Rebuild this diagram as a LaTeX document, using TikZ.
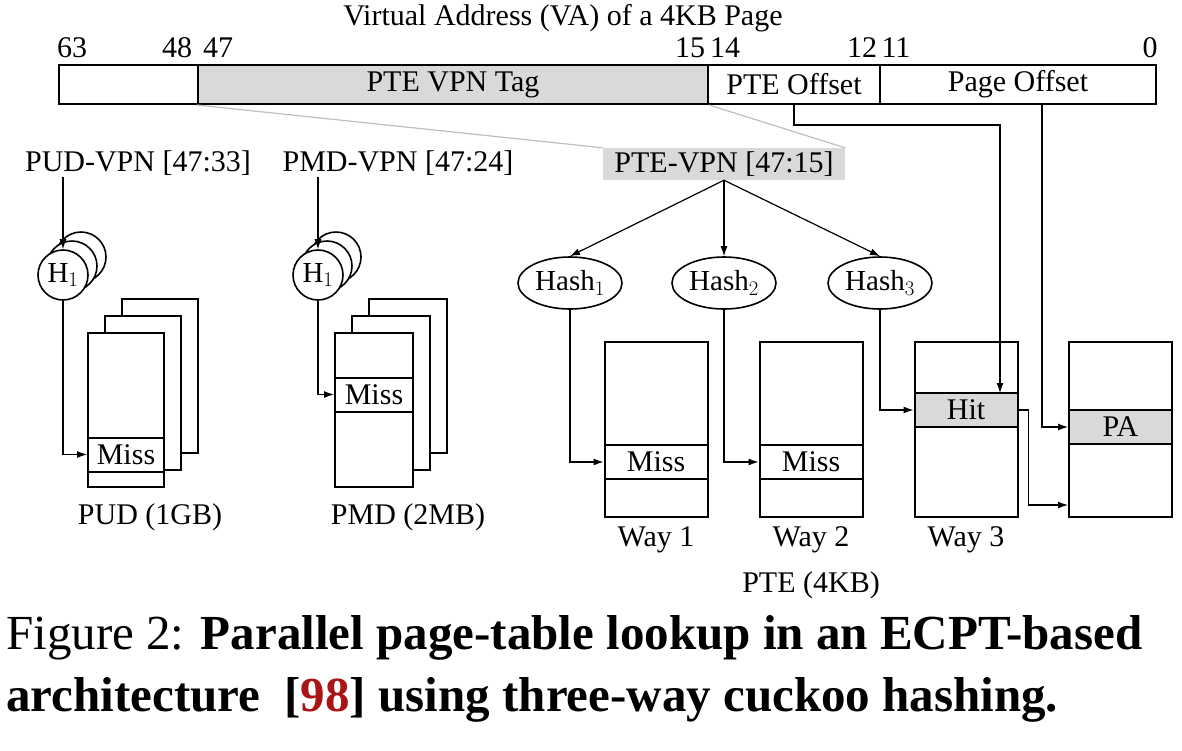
\documentclass[tikz,border=0pt]{standalone}
\usepackage{fontspec}
\setmainfont{Liberation Serif}
\usetikzlibrary{arrows.meta,shapes.geometric}
\definecolor{tagGray}{gray}{0.85}
\definecolor{refRed}{RGB}{170,20,20}
\tikzset{
  txt/.style={font=\fontsize{30}{32}\selectfont, inner sep=1pt},
  cell/.style={draw, line width=2pt, inner sep=0pt, font=\fontsize{30}{32}\selectfont},
  row/.style={cell, minimum height=34, fill=white},
  hop/.style={line width=1.2pt, -{Latex[length=10pt,width=7pt]}},
  hash/.style={draw, line width=1.6pt, ellipse, minimum width=104, minimum height=52, inner sep=0pt, fill=white, font=\fontsize{29}{31}\selectfont},
  hcirc/.style={draw, line width=1.6pt, circle, minimum size=50, inner sep=0pt, fill=white, font=\fontsize{29}{31}\selectfont}
}
\begin{document}
\begin{tikzpicture}[x=1pt,y=-1pt]
  \useasboundingbox (0,0) rectangle (1182,750);
  % address bar
  \node[txt] at (563,18) {Virtual Address (VA) of a 4KB Page};
  \foreach \b/\x in {63/72,48/177,47/218,15/690,14/725,12/862,11/896,0/1150}
    \node[txt] at (\x,48) {\b};
  \node[cell, minimum width=139, minimum height=39] (hi) at (128.5,84.5) {};
  \node[cell, fill=tagGray, minimum width=510, minimum height=39] (tag) at (453,84.5) {PTE VPN Tag};
  \node[cell, minimum width=172, minimum height=39] (pteoff) at (794,84.5) {PTE Offset};
  \node[cell, minimum width=276, minimum height=39] (pgoff) at (1018,84.5) {Page Offset};
  % PTE-VPN label
  \node[txt, fill=tagGray, minimum width=242, minimum height=32] (ptevpn) at (724,164) {PTE-VPN [47:15]};
  \draw[gray!50, line width=1.2pt] (tag.south west) -- (ptevpn.north west);
  \draw[gray!50, line width=1.2pt] (tag.south east) -- (ptevpn.north east);
  % PUD
  \node[txt] (pudvpn) at (138,163) {PUD-VPN [47:33]};
  \foreach \d in {18,9} \node[hcirc] at (63+\d,275-\d) {};
  \node[hcirc] (pudh) at (63,275) {H$_1$};
  \foreach \d in {34,17}
    \draw[line width=2pt, fill=white] (88+\d,333-\d) rectangle (164+\d,487-\d);
  \node[cell, minimum width=76, minimum height=154, fill=white] (pud) at (126,410) {};
  \node[row, minimum width=76] (pudmiss) at (126,454.5) {Miss};
  \node[txt] at (150,517) {PUD (1GB)};
  % PMD
  \node[txt] (pmdvpn) at (398,163) {PMD-VPN [47:24]};
  \foreach \d in {18,9} \node[hcirc] at (318+\d,275-\d) {};
  \node[hcirc] (pmdh) at (318,275) {H$_1$};
  \foreach \d in {34,17}
    \draw[line width=2pt, fill=white] (335+\d,333-\d) rectangle (413+\d,487-\d);
  \node[cell, minimum width=78, minimum height=154, fill=white] (pmd) at (374,410) {};
  \node[row, minimum width=78] (pmdmiss) at (374,394.5) {Miss};
  \node[txt] at (408,517) {PMD (2MB)};
  % PTE ways
  \foreach \n/\x in {1/570,2/724,3/880}
    \node[hash] (hash\n) at (\x,283) {Hash$_\n$};
  \foreach \n/\x in {1/656,2/811,3/966,4/1120.5}
    \node[cell, minimum width=103, minimum height=175] (way\n) at (\x,429.5) {};
  \node[row, minimum width=103] (miss1) at (656,462) {Miss};
  \node[row, minimum width=103] (miss2) at (811,462) {Miss};
  \node[row, minimum width=103, fill=tagGray] (hit) at (966,410) {Hit};
  \node[row, minimum width=103, fill=tagGray] (pa) at (1120.5,427) {PA};
  \foreach \n/\x in {1/656,2/811,3/966}
    \node[txt] at (\x,540) {Way \n};
  \node[txt] at (811,585) {PTE (4KB)};
  % connectors
  \draw[hop] (pudvpn.south -| pudh) -- (pudh.north);
  \draw[hop] (pudh.south) |- (pudmiss.west);
  \draw[hop] (pmdvpn.south -| pmdh) -- (pmdh.north);
  \draw[hop] (pmdh.south) |- (pmdmiss.west);
  \foreach \n in {1,2,3}
    \draw[hop] (ptevpn.south) -- (hash\n.north);
  \draw[hop] (hash1.south) |- (miss1.west);
  \draw[hop] (hash2.south) |- (miss2.west);
  \draw[hop] (hash3.south) |- (hit.west);
  \draw[hop] (pteoff.south) -- ++(0,20) -| (1000,393);
  \draw[hop] (pgoff.south -| 1042,0) |- (pa.west);
  \draw[hop] (hit.east) -- ++(10,0) |- (way4.south west |- 0,505);
  % caption
  \node[anchor=west, inner sep=0pt, font=\fontsize{49}{53}\selectfont] at (6,638)
    {Figure 2: \textbf{Parallel page-table lookup in an ECPT-based}};
  \node[anchor=west, inner sep=0pt, font=\fontsize{49}{53}\selectfont] at (6,700)
    {\textbf{architecture\ \ [\textcolor{refRed}{98}] using three-way cuckoo hashing.}};
\end{tikzpicture}
\end{document}
